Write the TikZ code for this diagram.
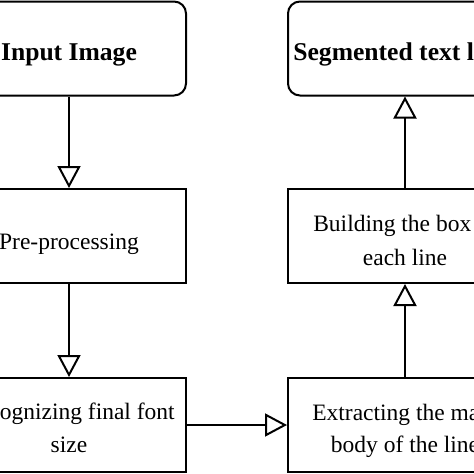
\documentclass[tikz,border=0pt]{standalone}
\usepackage{fontspec}
\setmainfont{Liberation Serif}
\usetikzlibrary{arrows.meta}
\begin{document}
\begin{tikzpicture}[x=1pt,y=-1pt,
  box/.style={draw,line width=2pt,minimum width=234pt,minimum height=94pt,inner sep=0pt},
  rbox/.style={box,rounded corners=12pt},
  flow/.style={line width=2pt,-{Triangle[open,length=22pt,width=23pt]}},
  btxt/.style={font=\fontsize{25.6}{30}\selectfont\bfseries,anchor=base,inner sep=0pt},
  ntxt/.style={font=\fontsize{23.5}{30}\selectfont,anchor=base,inner sep=0pt}]
\useasboundingbox (0,0) rectangle (474,474);
\clip (0,0) rectangle (474,474);
\node[rbox] (in) at (69,48.5) {};
\node[box] (pre) at (69,236) {};
\node[box] (rec) at (69,425) {};
\node[box] (ext) at (405,425) {};
\node[box] (bld) at (405,236) {};
\node[rbox] (seg) at (405,48.5) {};
\node[btxt] (t1) at (69,60) {Input Image};
\node[ntxt] (t2) at (69,249) {Pre-processing};
\node[ntxt] (t3a) at (69,419) {Recognizing final font};
\node[ntxt] (t3b) at (69,452) {size};
\node[ntxt] (t4a) at (405,420) {Extracting the main};
\node[ntxt] (t4b) at (405,452) {body of the line};
\node[ntxt] (t5a) at (405,231) {Building the box of};
\node[ntxt] (t5b) at (405,265) {each line};
\node[btxt] (t6) at (405,60) {Segmented text lines};
\draw[flow] (in.south) -- (pre.north);
\draw[flow] (pre.south) -- (rec.north);
\draw[flow] (rec.east) -- (ext.west);
\draw[flow] (ext.north) -- (bld.south);
\draw[flow] (bld.north) -- (seg.south);
\end{tikzpicture}
\end{document}
